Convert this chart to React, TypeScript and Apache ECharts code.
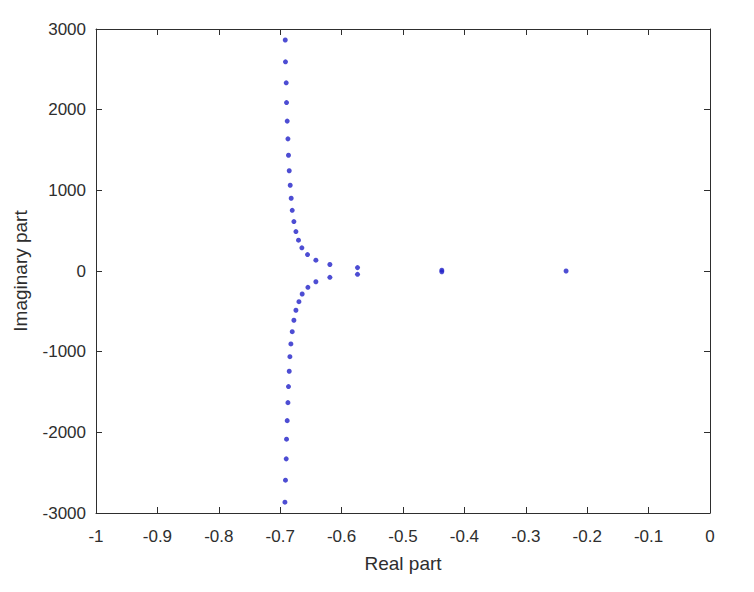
import React, { useEffect, useRef } from "react";
import * as echarts from "echarts";

// Upper branch of the root locus (real part, imaginary part)
const upperRe = [-0.6918, -0.6914, -0.6902, -0.6897, -0.6886, -0.6874, -0.6865, -0.6853, -0.6837, -0.6821, -0.6804, -0.6777, -0.6744, -0.6702, -0.6647, -0.6555, -0.6419, -0.6191, -0.5741, -0.4368];
const upperIm = [2864, 2593, 2333, 2088, 1858, 1638, 1435, 1243, 1063, 902, 752, 613, 489, 382, 287, 204, 134, 81, 42, 10];
// Lower branch
const lowerRe = [-0.6923, -0.6914, -0.6902, -0.6897, -0.6886, -0.6874, -0.6865, -0.6853, -0.6842, -0.6826, -0.6804, -0.6777, -0.6744, -0.6695, -0.6642, -0.6549, -0.6419, -0.6191, -0.5741, -0.4368];
const lowerIm = [-2866, -2593, -2329, -2085, -1855, -1632, -1433, -1243, -1062, -904, -752, -611, -487, -380, -285, -202, -133, -78, -41, -10];
// Real-axis root
const realRe = [-0.2344];
const realIm = [0];

const xTicks = { min: -1, max: 0, interval: 0.1 };
const yTicks = { min: -3000, max: 3000, interval: 1000 };

const AXIS_COLOR = "#2e2e2e";
const FONT = "'Liberation Sans', Arial, Helvetica, sans-serif";

export default function App() {
  const ref = useRef<HTMLDivElement>(null);
  useEffect(() => {
    if (!ref.current) return;
    const chart = echarts.init(ref.current, undefined, { renderer: "svg" });
    const pts: number[][] = [];
    upperRe.forEach((r, i) => pts.push([r, upperIm[i]]));
    lowerRe.forEach((r, i) => pts.push([r, lowerIm[i]]));
    realRe.forEach((r, i) => pts.push([r, realIm[i]]));

    const axisLine = { show: true, onZero: false, lineStyle: { color: AXIS_COLOR, width: 1 } };
    const axisTick = { show: true, inside: true, length: 6, lineStyle: { color: AXIS_COLOR, width: 1 } };

    chart.setOption({
      animation: false,
      backgroundColor: "#ffffff",
      grid: { left: 96, right: 44, top: 29, bottom: 79, containLabel: false },
      xAxis: [
        {
          type: "value",
          position: "bottom",
          ...xTicks,
          name: "Real part",
          nameLocation: "middle",
          nameGap: 41,
          nameTextStyle: { color: AXIS_COLOR, fontSize: 19, fontFamily: FONT },
          axisLine,
          axisTick,
          splitLine: { show: false },
          axisLabel: {
            color: AXIS_COLOR,
            fontSize: 17,
            fontFamily: FONT,
            margin: 15,
            formatter: (v: number) => String(Math.round(v * 10) / 10),
          },
        },
        {
          type: "value",
          position: "top",
          ...xTicks,
          axisLine,
          axisTick,
          splitLine: { show: false },
          axisLabel: { show: false },
        },
      ],
      yAxis: [
        {
          type: "value",
          position: "left",
          ...yTicks,
          name: "Imaginary part",
          nameLocation: "middle",
          nameGap: 66,
          nameTextStyle: { color: AXIS_COLOR, fontSize: 19, fontFamily: FONT },
          axisLine,
          axisTick,
          splitLine: { show: false },
          axisLabel: {
            color: AXIS_COLOR,
            fontSize: 17,
            fontFamily: FONT,
            margin: 10,
            formatter: (v: number) => String(Math.round(v)),
          },
        },
        {
          type: "value",
          position: "right",
          ...yTicks,
          axisLine,
          axisTick,
          splitLine: { show: false },
          axisLabel: { show: false },
        },
      ],
      series: [
        {
          type: "scatter",
          xAxisIndex: 0,
          yAxisIndex: 0,
          data: pts,
          symbol: "circle",
          symbolSize: 5,
          itemStyle: { color: "#2020c8" },
        },
      ],
    });
    return () => chart.dispose();
  }, []);
  return (
    <div
      ref={ref}
      style={{ position: "fixed", left: 0, top: 0, width: 754, height: 592, background: "#fff" }}
    />
  );
}
